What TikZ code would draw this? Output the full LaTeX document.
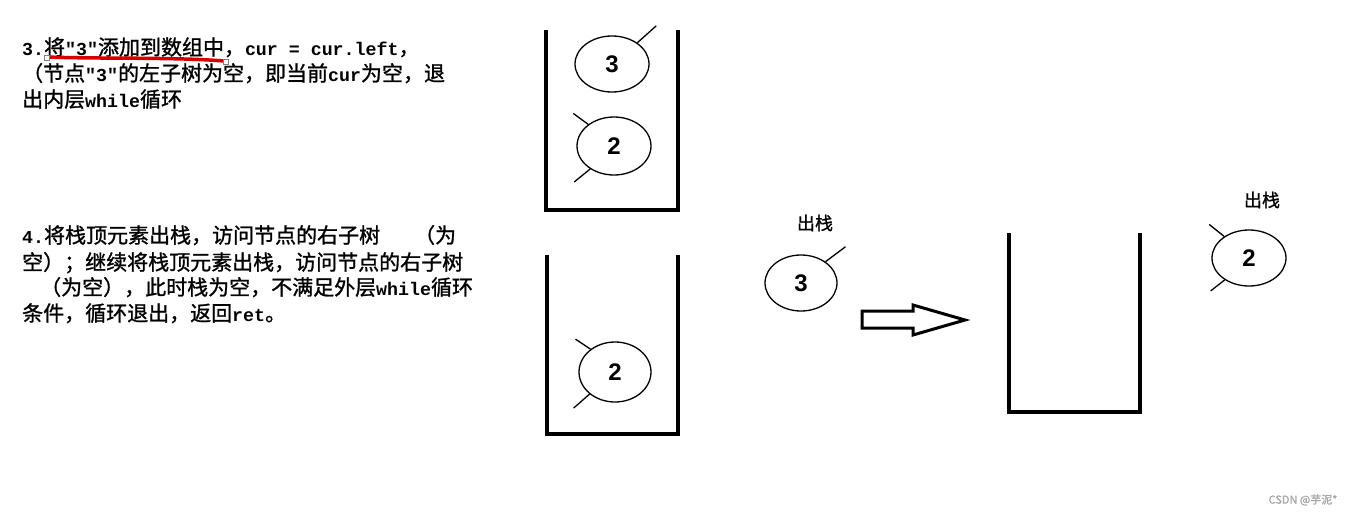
\documentclass[tikz,border=0pt]{standalone}
\usepackage{fontspec}
\setmainfont{Noto Sans CJK SC}[FakeBold=1.2]
\newfontfamily\monofont[Scale=0.87]{Liberation Mono}
\newfontfamily\numfont{Liberation Sans}
\usetikzlibrary{shapes.geometric}
\newcommand{\code}[1]{{\monofont\bfseries #1}}

\tikzset{
  txt/.style={anchor=base west, inner sep=0pt, font=\fontsize{21}{26}\selectfont},
  elem/.style={draw, ellipse, line width=1.3pt, minimum width=74pt, minimum height=56pt,
    inner sep=0pt, font=\numfont\bfseries\fontsize{24}{24}\selectfont},
  stub/.style={line width=1.3pt},
  stack/.style={line width=3.5pt},
  pop/.style={font=\fontsize{18}{18}\selectfont},
}

\begin{document}
\begin{tikzpicture}[x=1pt, y=-1pt]
  \useasboundingbox (0,0) rectangle (1358,517);

  % step 3
  \node[txt] (s3a) at (22,55) {\code{3.}将\code{"3"}添加到数组中，\code{cur = cur.left}，};
  \node[txt] (s3b) at (22,81) {（节点\code{"3"}的左子树为空，即当前\code{cur}为空，退};
  \node[txt] (s3c) at (22,107) {出内层\code{while}循环};
  \draw[red!85!black, line width=3.5pt] (47,57) .. controls (100,59) and (175,57) .. (224,61);
  \draw[gray, fill=white, line width=0.6pt] (44,55) rectangle (49,60);
  \draw[gray, fill=white, line width=0.6pt] (223,59) rectangle (228,64);

  % step 4
  \node[txt] (s4a) at (22,243) {\code{4.}将栈顶元素出栈，访问节点的右子树\hspace{34pt}（为};
  \node[txt] (s4b) at (22,270) {空）；继续将栈顶元素出栈，访问节点的右子树};
  \node[txt] (s4c) at (22,295) {\hspace{18pt}（为空），此时栈为空，不满足外层\code{while}循环};
  \node[txt] (s4d) at (22,321) {条件，循环退出，返回\code{ret}。};

  % stacks
  \draw[stack] (546,30) -- (546,210) -- (678,210) -- (678,30);
  \draw[stack] (547,255) -- (547,434) -- (678,434) -- (678,255);
  \draw[stack] (1009,233) -- (1009,412) -- (1140,412) -- (1140,233);

  \node[elem] (top3) at (612,64) {3};
  \draw[stub] (top3.40) -- +(19,-17);
  \node[elem, minimum height=58pt] (top2) at (614,146) {2};
  \draw[stub] (top2.140) -- +(-15,-11);
  \draw[stub] (top2.224) -- +(-16,13);

  \node[elem, minimum width=72pt, minimum height=60pt] (mid2) at (615,372) {2};
  \draw[stub] (mid2.137) -- +(-15,-10);
  \draw[stub] (mid2.221) -- +(-16,14);

  % popped
  \node[pop] (pop3) at (815,223) {出栈};
  \node[elem, minimum width=72pt] (out3) at (801,283) {3};
  \draw[stub] (out3.41) -- +(20,-15);

  \draw[stack, line width=3pt] (862,311) -- (913,311) -- (913,305) -- (965,320)
    -- (913,335) -- (913,328) -- (862,328) -- cycle;

  \node[pop] (pop2) at (1262,200) {出栈};
  \node[elem] (out2) at (1249,258) {2};
  \draw[stub] (out2.139) -- +(-15,-12);
  \draw[stub] (out2.222) -- +(-14,11);

  \node[font=\fontsize{11}{11}\selectfont, text=gray!70] (mark) at (1303,500) {CSDN @芋泥*};
\end{tikzpicture}
\end{document}
